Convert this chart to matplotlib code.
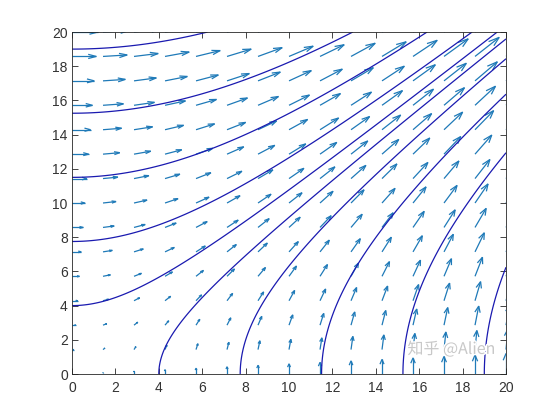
import numpy as np
import matplotlib
matplotlib.use("Agg")
import matplotlib.pyplot as plt
from matplotlib.collections import LineCollection
import matplotlib.patheffects as pe

# grid of arrow positions (15 x 15 on [0, 20])
grid_x = np.linspace(0, 20, 15)
grid_y = np.linspace(0, 20, 15)
# axis-crossing radii of the drawn flow lines (y^2 - x^2 = +/- r^2)
crossings = [4.0, 7.75, 11.5, 15.25, 19.0]
xticks = list(range(0, 21, 2))
yticks = list(range(0, 21, 2))

X, Y = np.meshgrid(grid_x, grid_y)
U = Y.copy()
V = X.copy()

fig = plt.figure(figsize=(5.6, 4.2), dpi=100)
ax = fig.add_axes([0.1286, 0.1095, 0.775, 0.8143])

# MATLAB-style quiver autoscale
n = np.sqrt(X.size)
delx = (X.max() - X.min()) / n
dely = (Y.max() - Y.min()) / n
dl = delx**2 + dely**2
maxlen = np.sqrt((U**2 + V**2) / dl).max()
s = 0.9 / maxlen
u = (U * s).ravel()
v = (V * s).ravel()
x = X.ravel()
y = Y.ravel()
alpha, beta = 0.33, 0.33
eps = 1e-16
segs = []
for xi, yi, ui, vi in zip(x, y, u, v):
    segs.append([(xi, yi), (xi + ui, yi + vi)])
    segs.append([(xi + ui - alpha * (ui + beta * (vi + eps)), yi + vi - alpha * (vi - beta * (ui + eps))),
                 (xi + ui, yi + vi),
                 (xi + ui - alpha * (ui - beta * (vi + eps)), yi + vi - alpha * (vi + beta * (ui + eps)))])
lc = LineCollection(segs, colors="#1f7ab8", linewidths=0.9, capstyle="butt", joinstyle="miter")
ax.add_collection(lc)

# flow lines
xf = np.linspace(0, 20, 400)
Xf, Yf = np.meshgrid(xf, xf)
psi = Yf**2 - Xf**2
lv = sorted([-r**2 for r in crossings] + [r**2 for r in crossings])
ax.contour(Xf, Yf, psi, levels=lv, colors="#1a1ab0", linewidths=0.9, linestyles="solid")

ax.set_xlim(0, 20)
ax.set_ylim(0, 20)
ax.set_xticks(xticks)
ax.set_yticks(yticks)
ax.tick_params(direction="in", top=True, right=True, length=4.5, width=0.6,
               labelsize=10, colors="#262626", labelcolor="#333333")
ax.tick_params(axis="x", pad=5)
ax.tick_params(axis="y", pad=3)
for t in ax.get_xticklabels() + ax.get_yticklabels():
    t.set_fontfamily("Liberation Sans")
for sp in ax.spines.values():
    sp.set_linewidth(0.6)
    sp.set_color("#262626")

fig.text(0.885, 0.168, "知乎 @Alien", fontsize=11.5, color="#c8c8c8",
         family=["Noto Sans CJK SC", "DejaVu Sans"], ha="right", va="center",
         path_effects=[pe.withStroke(linewidth=2, foreground="white")])

fig.savefig("out.png", dpi=100)
